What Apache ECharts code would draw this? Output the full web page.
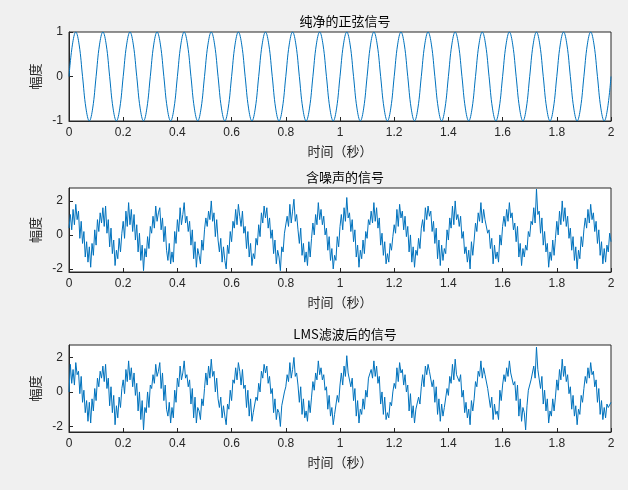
<!DOCTYPE html>
<html>
<head>
<meta charset="utf-8">
<script src="https://cdn.jsdelivr.net/npm/echarts@6/dist/echarts.min.js"></script>
<style>
  html, body { margin: 0; padding: 0; background: #f0f0f0; }
  #main { width: 628px; height: 490px; }
</style>
</head>
<body>
<div id="main"></div>
<script>
// 时间步长（秒）与各子图数据
var cleanStep = 0.0125;
var noisyStep = 0.005;
var titles = ['纯净的正弦信号', '含噪声的信号', 'LMS滤波后的信号'];

var cleanVals = [
  0,0.71,1,0.71,0,-0.71,-1,-0.71, 0,0.71,1,0.71,0,-0.71,-1,-0.71,
  0,0.71,1,0.71,0,-0.71,-1,-0.71, 0,0.71,1,0.71,0,-0.71,-1,-0.71,
  0,0.71,1,0.71,0,-0.71,-1,-0.71, 0,0.71,1,0.71,0,-0.71,-1,-0.71,
  0,0.71,1,0.71,0,-0.71,-1,-0.71, 0,0.71,1,0.71,0,-0.71,-1,-0.71,
  0,0.71,1,0.71,0,-0.71,-1,-0.71, 0,0.71,1,0.71,0,-0.71,-1,-0.71,
  0,0.71,1,0.71,0,-0.71,-1,-0.71, 0,0.71,1,0.71,0,-0.71,-1,-0.71,
  0,0.71,1,0.71,0,-0.71,-1,-0.71, 0,0.71,1,0.71,0,-0.71,-1,-0.71,
  0,0.71,1,0.71,0,-0.71,-1,-0.71, 0,0.71,1,0.71,0,-0.71,-1,-0.71,
  0,0.71,1,0.71,0,-0.71,-1,-0.71, 0,0.71,1,0.71,0,-0.71,-1,-0.71,
  0,0.71,1,0.71,0,-0.71,-1,-0.71, 0,0.71,1,0.71,0,-0.71,-1,-0.71,
  0
];

var noisyVals = [
  0.4,1.2,0.3,1.5,0.6,1.8,0.9,1.4,-0.2,0.8,-0.5,0.2,-1.3,-0.4,-1.6,-0.7,-1.9,-0.5,-1.2,0.3,
  -0.6,0.9,0.2,1.3,0.7,1.6,0.5,1.7,0.1,0.9,-0.7,0.4,-1.1,-0.3,-1.8,-0.9,-1.4,-0.2,-1.0,0.1,
  0.8,-0.2,1.4,0.5,1.9,0.6,1.5,0.2,1.2,-0.3,0.6,-1.0,0.1,-1.5,-0.6,-2.1,-0.8,-1.3,-0.1,-0.8,
  0.5,0.1,1.1,0.4,1.7,0.8,1.3,1.6,0.3,1.0,-0.4,0.5,-0.9,-1.5,-0.5,-1.7,-1.0,-1.6,0.2,-0.5,
  0.9,0.2,1.6,0.6,1.2,1.9,0.7,1.1,0.2,0.8,-0.6,0.3,-1.4,-0.4,-1.9,-0.8,-1.2,-1.7,-0.3,-0.9,
  0.3,1.0,0.5,1.4,0.9,2.0,0.8,1.3,-0.1,0.9,-0.3,-1.0,-0.2,-1.6,-0.7,-1.5,-2.0,-0.6,-1.1,0.2,
  -0.4,0.8,0.4,1.5,0.6,1.8,1.1,0.5,1.4,0.1,0.5,-0.8,0.2,-1.3,-0.5,-1.8,-1.1,-1.4,-0.2,-0.6,
  0.6,-0.1,1.3,0.7,1.7,1.0,1.6,0.4,1.0,-0.2,0.3,-1.1,-0.3,-1.7,-0.9,-1.3,-2.1,-0.7,-1.0,0.1,
  0.2,1.1,0.5,1.8,0.7,1.4,2.1,0.8,1.2,0.3,-0.5,0.4,-1.2,-0.5,-1.6,-1.0,-1.8,-0.4,-1.3,-0.2,
  0.7,0.0,1.2,0.6,1.9,0.9,1.5,0.6,1.1,0.0,0.4,-0.9,-0.1,-1.5,-0.8,-2.0,-1.2,-1.5,-0.1,-0.7,
  0.5,1.2,0.3,1.6,0.8,2.2,1.0,1.3,0.2,0.9,-0.4,0.3,-1.3,-0.6,-1.9,-0.9,-1.4,-0.3,-1.1,0.2,
  -0.2,0.9,0.6,1.4,0.7,1.9,0.8,1.6,0.4,1.0,-0.6,0.1,-1.2,-0.4,-1.7,-1.1,-1.6,-0.5,-0.9,-0.1,
  0.6,0.1,1.5,0.5,1.8,1.0,1.4,0.3,1.1,-0.1,0.5,-1.0,0.0,-1.6,-0.7,-1.9,-0.9,-1.2,-0.2,-0.8,
  0.4,0.9,0.2,1.6,0.9,1.7,1.1,1.4,0.2,0.8,-0.5,0.4,-1.4,-0.3,-1.8,-0.6,-1.5,-0.8,-1.1,0.3,
  -0.3,1.0,0.4,1.7,0.6,2.0,0.9,1.2,0.5,1.1,-0.2,0.2,-1.1,-0.7,-1.6,-0.9,-2.0,-0.4,-1.2,-0.3,
  0.7,0.2,1.3,0.8,1.9,0.7,1.5,0.9,1.0,0.1,0.3,-0.8,-0.2,-1.7,-0.6,-1.4,-1.0,-1.6,0.0,-0.6,
  0.5,1.1,0.5,1.5,0.8,1.9,1.0,1.3,0.3,0.7,-0.4,0.5,-1.3,-0.5,-1.8,-0.8,-1.3,-0.6,-0.9,0.2,
  -0.1,0.8,0.6,1.6,0.7,2.7,1.2,1.4,0.1,1.0,-0.6,0.2,-1.0,-0.5,-1.9,-1.0,-1.5,-0.3,-1.2,-0.2,
  0.8,0.0,1.4,0.6,2.0,0.8,1.6,0.5,1.1,-0.2,0.4,-0.9,-0.1,-1.5,-0.7,-2.0,-0.9,-1.4,-0.1,-0.7,
  0.3,1.0,0.4,1.5,0.7,1.8,0.9,1.3,0.2,0.8,-0.5,0.3,-1.2,-0.4,-1.7,-0.8,-1.6,-0.6,-1.0,0.1,
  -0.4
];

var filteredVals = [
  0.0,1.6,0.5,1.3,0.4,1.7,1.0,1.2,-0.1,0.9,-0.6,0.1,-1.2,-0.5,-1.7,-0.6,-1.8,-0.4,-1.1,0.2,
  -0.5,0.8,0.3,1.2,0.8,1.5,0.6,1.6,0.2,0.8,-0.8,0.3,-1.2,-0.2,-1.9,-0.8,-1.5,-0.3,-0.9,0.2,
  0.7,-0.1,1.3,0.6,1.8,0.7,1.4,0.3,1.1,-0.2,0.5,-1.1,0.0,-1.6,-0.5,-2.2,-0.9,-1.2,0.0,-0.9,
  0.4,0.2,1.0,0.5,1.6,0.9,1.2,1.7,0.2,1.1,-0.5,0.4,-1.0,-1.4,-0.6,-1.8,-0.9,-1.5,0.1,-0.6,
  0.8,0.3,1.5,0.7,1.1,1.8,0.8,1.0,0.3,0.7,-0.7,0.2,-1.5,-0.3,-1.8,-0.9,-1.1,-1.6,-0.4,-0.8,
  0.2,1.1,0.4,1.5,0.8,1.9,0.9,1.2,0.0,0.8,-0.4,-0.9,-0.3,-1.5,-0.8,-1.4,-1.9,-0.7,-1.0,0.1,
  -0.5,0.7,0.5,1.4,0.7,1.7,1.2,0.4,1.3,0.2,0.4,-0.9,0.1,-1.4,-0.4,-1.7,-1.2,-1.3,-0.3,-0.5,
  0.5,0.0,1.2,0.8,1.6,1.1,1.5,0.5,0.9,-0.1,0.2,-1.2,-0.4,-1.6,-1.0,-1.2,-2.0,-0.8,-0.9,0.0,
  0.3,1.0,0.6,1.7,0.8,1.3,2.0,0.9,1.1,0.4,-0.6,0.3,-1.3,-0.4,-1.5,-1.1,-1.7,-0.5,-1.2,-0.3,
  0.6,0.1,1.1,0.7,1.8,1.0,1.4,0.7,1.0,0.1,0.3,-1.0,-0.2,-1.4,-0.9,-1.9,-1.3,-1.4,-0.2,-0.6,
  0.4,1.1,0.4,1.5,0.9,2.1,1.1,1.2,0.3,0.8,-0.5,0.2,-1.4,-0.5,-1.8,-1.0,-1.3,-0.4,-1.0,0.1,
  -0.3,0.8,0.7,1.3,0.8,1.8,0.9,1.5,0.5,0.9,-0.7,0.0,-1.3,-0.3,-1.6,-1.2,-1.5,-0.6,-0.8,0.0,
  0.5,0.2,1.4,0.6,1.7,1.1,1.3,0.4,1.0,0.0,0.4,-1.1,-0.1,-1.5,-0.8,-1.8,-1.0,-1.1,-0.3,-0.7,
  0.3,1.0,0.3,1.5,1.0,1.6,1.2,1.3,0.3,0.7,-0.6,0.3,-1.3,-0.4,-1.7,-0.7,-1.4,-0.9,-1.0,0.2,
  -0.2,0.9,0.5,1.6,0.7,1.9,1.0,1.1,0.6,1.0,-0.3,0.1,-1.2,-0.6,-1.5,-1.0,-1.9,-0.5,-1.1,-0.4,
  0.6,0.3,1.2,0.9,1.8,0.8,1.4,1.0,0.9,0.2,0.2,-0.9,-0.3,-1.6,-0.7,-1.3,-1.1,-1.6,0.1,-0.5,
  0.4,1.0,0.6,1.4,0.9,1.8,1.1,1.2,0.4,0.6,-0.5,0.4,-1.4,-0.4,-1.7,-0.9,-1.2,-2.2,-0.8,0.1,
  0.0,0.7,0.7,1.5,0.8,2.6,1.3,1.3,0.2,0.9,-0.7,0.1,-1.1,-0.4,-1.8,-1.1,-1.4,-0.4,-1.1,-0.3,
  0.7,0.1,1.3,0.7,1.9,0.9,1.5,0.6,1.0,-0.1,0.3,-1.0,-0.2,-1.4,-0.8,-1.9,-1.0,-1.3,-0.2,-0.6,
  0.2,0.9,0.5,1.4,0.8,1.7,1.0,1.2,0.3,0.7,-0.6,0.2,-1.3,-0.5,-1.6,-0.9,-1.5,-0.7,-0.9,-1.0,
  -0.6
];

function toPairs(vals, step) {
  return vals.map(function (v, i) { return [+(i * step).toFixed(4), v]; });
}

var font = "'Noto Sans CJK SC', sans-serif";
var ink = '#262626';
var grids = [
  { left: 69, right: 17, top: 32, height: 89 },
  { left: 69, right: 17, top: 188, height: 84 },
  { left: 69, right: 17, top: 345, height: 87 }
];
var yRanges = [
  { min: -1, max: 1, interval: 1 },
  { min: -2.18, max: 2.76, ticks: [-2, 0, 2] },
  { min: -2.32, max: 2.72, ticks: [-2, 0, 2] }
];

var chart = echarts.init(document.getElementById('main'));
chart.setOption({
  backgroundColor: '#f0f0f0',
  animation: false,
  title: titles.map(function (t, i) {
    return {
      text: t, left: 340, textAlign: 'center', top: grids[i].top - 22,
      textStyle: { fontSize: 13, fontWeight: 'normal', color: '#000', fontFamily: font }
    };
  }),
  grid: grids.map(function (g) {
    return Object.assign({ show: true, backgroundColor: '#fff', borderColor: ink, borderWidth: 1 }, g);
  }),
  xAxis: grids.map(function (g, i) {
    return {
      type: 'value', gridIndex: i, min: 0, max: 2, interval: 0.2,
      name: '时间（秒）', nameLocation: 'middle', nameGap: 24,
      nameTextStyle: { fontSize: 13, color: ink, fontFamily: font },
      axisLine: { onZero: false, lineStyle: { color: ink } },
      axisTick: { inside: true, length: 4, lineStyle: { color: ink } },
      axisLabel: { fontSize: 12, color: ink, margin: 6, fontFamily: 'Liberation Sans',
        formatter: function (v) { return String(+v.toFixed(1)); } },
      splitLine: { show: false }
    };
  }),
  yAxis: yRanges.map(function (r, i) {
    var ax = {
      type: 'value', gridIndex: i, min: r.min, max: r.max,
      name: '幅度', nameLocation: 'middle', nameGap: 22,
      nameTextStyle: { fontSize: 13, color: ink, fontFamily: font },
      axisLine: { show: true, onZero: false, lineStyle: { color: ink } },
      axisTick: { inside: true, length: 4, lineStyle: { color: ink } },
      axisLabel: { fontSize: 12, color: ink, margin: 6, fontFamily: 'Liberation Sans' },
      splitLine: { show: false }
    };
    if (r.interval) {
      ax.interval = r.interval;
    } else {
      ax.axisTick.customValues = r.ticks;
      ax.axisLabel.customValues = r.ticks;
    }
    return ax;
  }),
  series: [
    { type: 'line', xAxisIndex: 0, yAxisIndex: 0, data: toPairs(cleanVals, cleanStep), smooth: 0.4,
      showSymbol: false, lineStyle: { width: 1, color: '#0072bd' } },
    { type: 'line', xAxisIndex: 1, yAxisIndex: 1, data: toPairs(noisyVals, noisyStep),
      showSymbol: false, lineStyle: { width: 1, color: '#0072bd' } },
    { type: 'line', xAxisIndex: 2, yAxisIndex: 2, data: toPairs(filteredVals, noisyStep),
      showSymbol: false, lineStyle: { width: 1, color: '#0072bd' } }
  ]
});
</script>
</body>
</html>
